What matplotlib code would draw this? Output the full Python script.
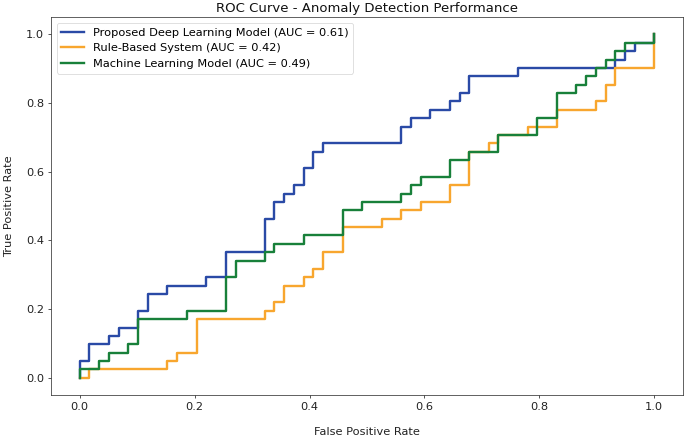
import numpy as np
import matplotlib
matplotlib.use("Agg")
import matplotlib.pyplot as plt

# Counts (grid of 59 negatives x 41 positives)
N_NEG = 59
N_POS = 41

dl_fp = [0, 0, 1, 3, 4, 6, 7, 9, 13, 15, 19, 20, 21, 22, 23, 24, 25, 33, 34, 36, 38, 39, 40, 45, 55, 56, 57, 59]
dl_tp = [0, 2, 4, 5, 6, 8, 10, 11, 12, 15, 19, 21, 22, 23, 25, 27, 28, 30, 31, 32, 33, 34, 36, 37, 38, 39, 40, 41]

rb_fp = [0, 1, 9, 10, 12, 19, 20, 21, 23, 24, 25, 27, 31, 33, 35, 38, 40, 42, 43, 46, 49, 53, 54, 55, 59]
rb_tp = [0, 1, 2, 3, 7, 8, 9, 11, 12, 13, 15, 18, 19, 20, 21, 23, 27, 28, 29, 30, 32, 33, 35, 37, 41]

ml_fp = [0, 0, 2, 3, 5, 6, 11, 15, 16, 19, 20, 23, 27, 29, 33, 34, 35, 38, 40, 43, 47, 49, 51, 52, 53, 54, 55, 56, 59]
ml_tp = [0, 1, 2, 3, 4, 7, 8, 12, 14, 15, 16, 17, 20, 21, 22, 23, 24, 26, 27, 29, 31, 34, 35, 36, 37, 38, 39, 40, 41]

labels = [
    "Proposed Deep Learning Model (AUC = 0.61)",
    "Rule-Based System (AUC = 0.42)",
    "Machine Learning Model (AUC = 0.49)",
]
colors = ["#2a4aa6", "#f8a62e", "#18803a"]

S = 0.685
FS = 12 * S
plt.rcParams['font.family'] = ['DejaVu Sans']
fig = plt.figure(figsize=(6.85, 4.36), dpi=100)
W, H = 685, 436
ax = fig.add_axes([51 / W, (H - 395) / H, (683 - 51) / W, (395 - 17.3) / H])

for fp, tp, lab, col in zip([dl_fp, rb_fp, ml_fp], [dl_tp, rb_tp, ml_tp], labels, colors):
    ax.step(np.array(fp) / N_NEG, np.array(tp) / N_POS, where="post",
            color=col, lw=2.5 * S, label=lab)

ax.set_xlim(-0.05, 1.05)
ax.set_ylim(-0.05, 1.05)
ax.set_xticks([0.0, 0.2, 0.4, 0.6, 0.8, 1.0])
ax.set_yticks([0.0, 0.2, 0.4, 0.6, 0.8, 1.0])
ax.tick_params(labelsize=FS, width=0.8 * S, length=3.5 * S, pad=3.5 * S, colors="#222222")
for sp in ax.spines.values():
    sp.set_linewidth(0.8 * S)
    sp.set_color("#333333")
ax.set_xlabel("False Positive Rate", fontsize=FS, labelpad=11.3, color="#222222")
ax.set_ylabel("True Positive Rate", fontsize=FS, labelpad=8.5, color="#222222")
ax.set_title("ROC Curve - Anomaly Detection Performance", fontsize=14 * S, pad=6 * S, color="#111111")
leg = ax.legend(loc="upper left", fontsize=FS, frameon=True)
leg.get_frame().set_linewidth(0.8 * S)

fig.savefig("out.png", dpi=100)
